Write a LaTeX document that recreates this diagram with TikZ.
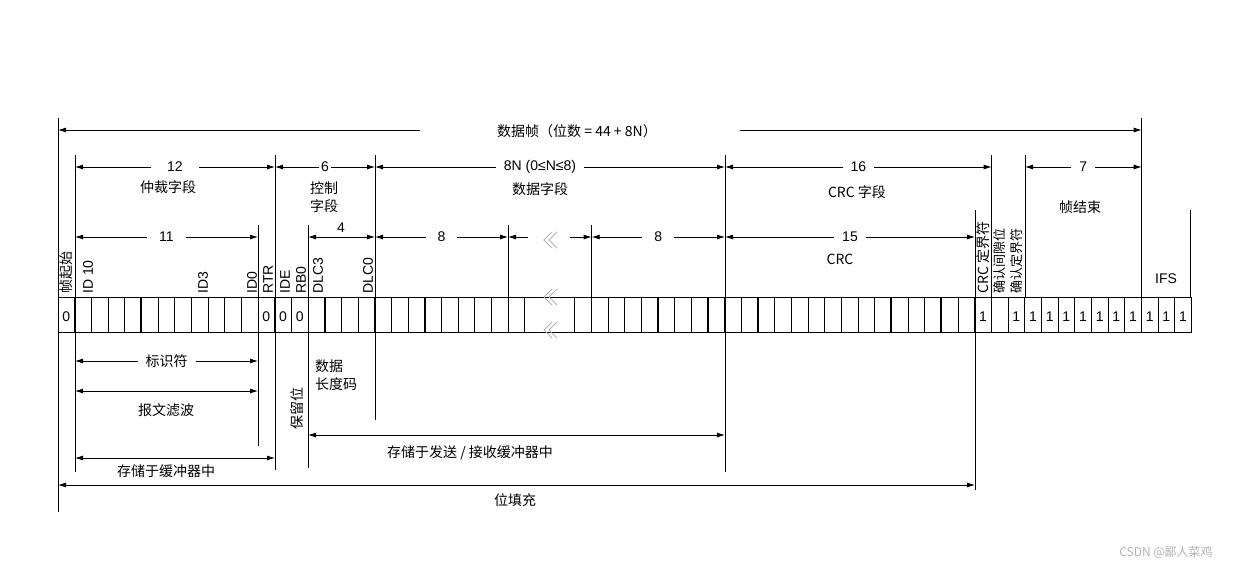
\documentclass[tikz,border=0pt]{standalone}
\usepackage{fontspec}
\setmainfont{Liberation Sans}
\newfontfamily\cjk{Noto Sans CJK SC}
\usetikzlibrary{arrows.meta}
\tikzset{
 dim/.style={{Latex[length=8pt,width=5pt]}-{Latex[length=8pt,width=5pt]},line width=0.8pt},
 rarr/.style={-{Latex[length=8pt,width=5pt]},line width=0.8pt},
 lbl/.style={fill=white,inner xsep=8pt,inner ysep=1pt,font=\fontsize{14}{16}\selectfont},
 txt/.style={font=\fontsize{14}{18}\selectfont\cjk,align=center,inner sep=1pt},
 rot/.style={rotate=90,anchor=west,inner sep=0pt,font=\fontsize{14}{15}\selectfont},
 rotc/.style={rotate=90,anchor=west,inner sep=0pt,font=\fontsize{13}{14}\selectfont\cjk},
 vl/.style={line width=0.8pt},
 brk/.style={gray!60,line width=0.9pt}
}
\newcommand\bx[1]{{58+16.667*(#1)}}
\begin{document}
\begin{tikzpicture}[x=1pt,y=-1pt]
\useasboundingbox (0,0) rectangle (1250,571);
% bit row
\draw[vl] (58,297) -- (1192,297);
\draw[vl] (58,332) -- (1192,332);
\foreach \i in {1,...,28}{
  \draw[vl] (\bx{\i},297) -- (\bx{\i},332);}
\foreach \i in {31,...,68}{
  \draw[vl] (\bx{\i},297) -- (\bx{\i},332);}
\foreach \i in {5,16,19,22,36,39,42,50,53,55}{
  \draw[line width=1.8pt] (\bx{\i},297) -- (\bx{\i},332);}
% break marks
\foreach \y in {297,330}{
  \draw[brk] (552,\y-8) -- (544,\y) -- (552,\y+8);
  \draw[brk] (557,\y-8) -- (549,\y) -- (557,\y+8);}
% bit values
\foreach \i/\v in {0/0,12/0,13/0,14/0,55/1,57/1,58/1,59/1,60/1,61/1,62/1,63/1,64/1,65/1,66/1,67/1}{
  \node[font=\fontsize{14}{16}\selectfont] at ({58+16.667*(\i+0.5)},317) {\v};}
% verticals
\draw[vl] (58,118) -- (58,512);
\draw[vl] (75,155) -- (75,472);
\draw[vl] (258,225) -- (258,297);
\draw[vl] (258,332) -- (258,446);
\draw[vl] (275,155) -- (275,470);
\draw[vl] (308,225) -- (308,297);
\draw[vl] (308,332) -- (308,468);
\draw[vl] (375,155) -- (375,420);
\draw[vl] (508,225) -- (508,297);
\draw[vl] (591.7,225) -- (591.7,297);
\draw[vl] (725,155) -- (725,472);
\draw[vl] (975,210) -- (975,490);
\draw[vl] (991.7,155) -- (991.7,297);
\draw[vl] (1025,155) -- (1025,297);
\draw[vl] (1141.7,118) -- (1141.7,297);
\draw[vl] (1190,210) -- (1190,297);
% top arrow
\draw[rarr] (420,130) -- (58,130);
\draw[rarr] (740,130) -- (1141.7,130);
\node[txt] at (577,131) {数据帧（位数 = 44 + 8N）};
% second row
\draw[dim] (75,167) -- node[lbl,inner xsep=16pt]{12} (275,167);
\node[txt] at (168,187) {仲裁字段};
\draw[dim] (275,167) -- node[lbl,inner xsep=2pt]{6} (375,167);
\node[txt] at (324,197) {控制\\字段};
\draw[dim] (375,167) -- (725,167);
\node[lbl] at (540,167) {8N (0≤N≤8)};
\node[txt] at (540,189) {数据字段};
\draw[dim] (725,167) -- node[lbl]{16} (991.7,167);
\node[txt] at (857,192) {CRC 字段};
\draw[dim] (1025,167) -- node[lbl]{7} (1141.7,167);
\node[txt] at (1080,207) {帧结束};
% third row
\draw[dim] (75,237) -- node[lbl,inner xsep=12pt]{11} (258,237);
\draw[dim] (308,237) -- (375,237);
\node[font=\fontsize{14}{16}\selectfont] at (341,228) {4};
\draw[dim] (375,237) -- node[lbl,inner xsep=12pt]{8} (508,237);
\draw[dim] (508,237) -- (591.7,237);
\fill[white] (528,230) rectangle (570,244);
\draw[brk] (552,232) -- (544,240) -- (552,248);
\draw[brk] (557,232) -- (549,240) -- (557,248);
\draw[dim] (591.7,237) -- node[lbl,inner xsep=12pt]{8} (725,237);
\draw[dim] (725,237) -- node[lbl]{15} (975,237);
\node[txt] at (840,259) {CRC};
% rotated labels
\node[rotc,font=\fontsize{14}{15}\selectfont\cjk] at (66,294) {帧起始};
\node[rot] at (88,294) {ID 10};
\node[rot] at (203,294) {ID3};
\node[rot] at (252,294) {ID0};
\node[rot] at (268,294) {RTR};
\node[rot] at (285,294) {IDE};
\node[rot] at (301,294) {RB0};
\node[rot] at (318,294) {DLC3};
\node[rot] at (368,294) {DLC0};
\node[rotc,font=\fontsize{14}{15}\selectfont\cjk] at (983,294) {CRC 定界符};
\node[rotc] at (1000,294) {确认间隙位};
\node[rotc] at (1017,294) {确认定界符};
\node[font=\fontsize{14}{16}\selectfont] at (1166,279) {IFS};
% bottom arrows
\draw[dim] (75,361) -- node[lbl,font=\fontsize{14}{16}\selectfont\cjk]{标识符} (258,361);
\draw[dim] (75,391) -- (258,391);
\node[txt] at (166,410) {报文滤波};
\draw[dim] (75,458) -- (275,458);
\node[txt] at (166,471) {存储于缓冲器中};
\node[rotc,anchor=center,font=\fontsize{14}{15}\selectfont\cjk] at (297,408) {保留位};
\node[txt,align=left] at (336,375) {数据\\长度码};
\draw[dim] (308,435) -- (725,435);
\node[txt] at (470,453) {存储于发送 / 接收缓冲器中};
\draw[dim] (58,485) -- (975,485);
\node[txt] at (515,500) {位填充};
\node[txt,text=gray!60,font=\fontsize{12}{14}\selectfont\cjk] at (1166,552) {CSDN @鄙人菜鸡};
\end{tikzpicture}
\end{document}
